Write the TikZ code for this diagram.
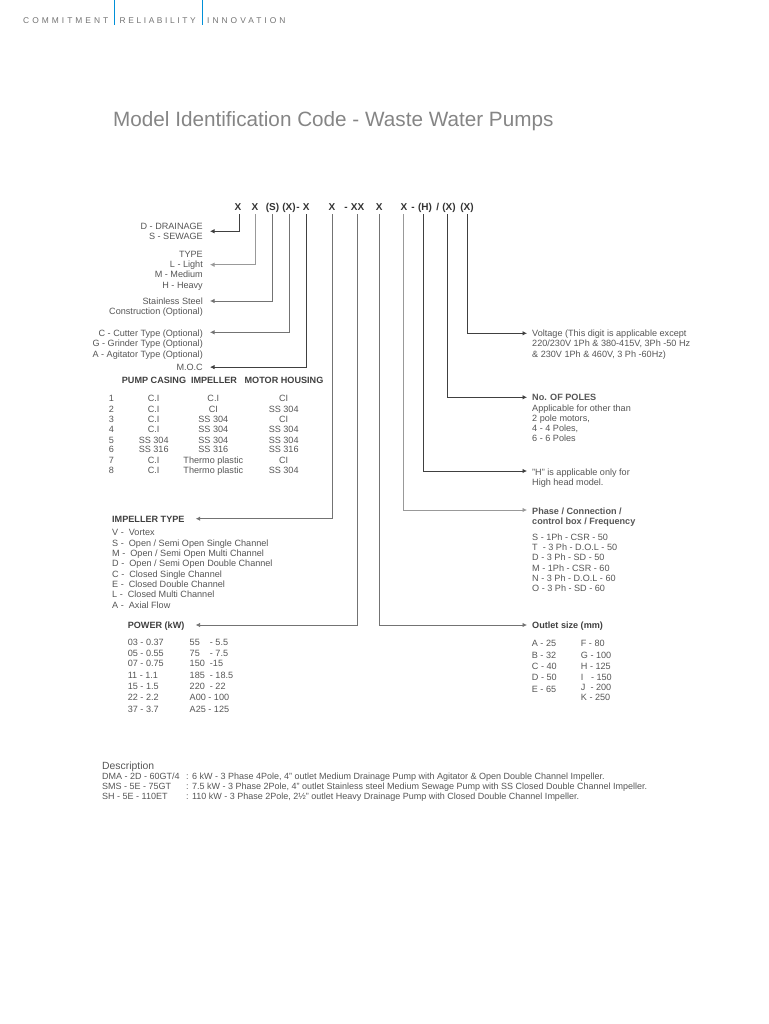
\documentclass[tikz,border=0pt]{standalone}
\usepackage{fontspec}
\setmainfont{Liberation Sans}
\usetikzlibrary{arrows.meta}
\definecolor{txtgray}{HTML}{555555}
\definecolor{titlegray}{HTML}{858585}
\definecolor{barblue}{HTML}{0090D8}
\begin{document}
\begin{tikzpicture}
    [
    x=1pt,y=-1pt,
    codeletter/.style={
      font=\fontsize{10}{12}\selectfont\bfseries,
      text=black!80,
      inner sep=0pt,
      text height=10.6pt,
      text depth=3.4pt
    },
    txt/.style={
      font=\fontsize{9.1}{10.3}\selectfont,
      text=txtgray,
      inner sep=0pt
    },
    row/.style={
      txt,
      text height=6.6pt,
      text depth=0pt
    },
    headtxt/.style={
      row,
      font=\fontsize{9.1}{10.3}\selectfont\bfseries,
      text=black!75
    },
    straptxt/.style={
      anchor=west,
      inner sep=0pt,
      text=black!55,
      font=\fontsize{8.4}{10}\selectfont\addfontfeature{LetterSpace=#1}
    },
    lefttxt/.style={txt,align=right,anchor=north east,inner xsep=7pt},
    righttxt/.style={txt,align=left,anchor=north west,inner xsep=5pt},
    link/.style={
      draw=black!55,
      line width=0.8pt,
      -{Latex[length=4.5pt,width=4.5pt]}
    },
    linkdark/.style={link,draw=black!75},
    linklight/.style={link,draw=black!40}
    ]
    \useasboundingbox (0,0) rectangle (768,1024);
    % strap line
    \node (strapa) at (23,20.3) [straptxt=36] {COMMITMENT};
    \node (strapb) at (119.5,20.3) [straptxt=31] {RELIABILITY};
    \node (strapc) at (207,20.3) [straptxt=36] {INNOVATION};
    \fill[barblue] (114.2,0) rectangle (115.2,25);
    \fill[barblue] (201.6,0) rectangle (202.6,25);
    % title
    \node (title) at (113,121.5) [anchor=west,inner sep=0pt,text=titlegray,
      font=\fontsize{20.7}{25}\selectfont] {Model Identification Code - Waste Water Pumps};
    % code letters
    \node (xa) at (238,207) [codeletter] {X};
    \node (xb) at (255,207) [codeletter] {X};
    \node (xc) at (272.5,207) [codeletter] {(S)};
    \node (xd) at (289,207) [codeletter] {(X)};
    \node (dasha) at (298,207) [codeletter] {-};
    \node (xe) at (306.3,207) [codeletter] {X};
    \node (xf) at (332,207) [codeletter] {X};
    \node (dashb) at (346,207) [codeletter] {-};
    \node (xg) at (357.5,207) [codeletter] {XX};
    \node (xh) at (379.3,207) [codeletter] {X};
    \node (xi) at (404,207) [codeletter] {X};
    \node (dashc) at (413,207) [codeletter] {-};
    \node (xj) at (425,207) [codeletter] {(H)};
    \node (slash) at (437.7,207) [codeletter] {/};
    \node (xk) at (449,207) [codeletter] {(X)};
    \node (xl) at (467,207) [codeletter] {(X)};
    % left labels
    \node (drain) at (210,222.7) [lefttxt] {D - DRAINAGE\\S - SEWAGE};
    \node (kind) at (210,250.7) [lefttxt] {TYPE\\L - Light\\M - Medium\\H - Heavy};
    \node (steel) at (210,297.7) [lefttxt] {Stainless Steel\\Construction (Optional)};
    \node (cutter) at (210,329.7) [lefttxt] {C - Cutter Type (Optional)\\G - Grinder Type (Optional)\\A - Agitator Type (Optional)};
    \node (moc) at (210,363.7) [lefttxt] {M.O.C};
    % material table
    \node (hcasing) at (154,380) [headtxt] {PUMP CASING};
    \node (himp) at (214,380) [headtxt] {IMPELLER};
    \node (hmotor) at (284,380) [headtxt] {MOTOR HOUSING};
    \foreach \y/\n/\a/\b/\c [count=\i] in {
      398.3/1/C.I/C.I/CI,
      408.7/2/C.I/CI/SS 304,
      418.7/3/C.I/SS 304/CI,
      429/4/C.I/SS 304/SS 304,
      439.7/5/SS 304/SS 304/SS 304,
      449.2/6/SS 316/SS 316/SS 316,
      459.7/7/C.I/Thermo plastic/CI,
      470/8/C.I/Thermo plastic/SS 304}
    {
      \node (tn\i) at (111.3,\y) [row] {\n};
      \node (ta\i) at (153.7,\y) [row] {\a};
      \node (tb\i) at (213.3,\y) [row] {\b};
      \node (tc\i) at (283.7,\y) [row] {\c};
    }
    % impeller list
    \node (imp) at (112,518.7) [headtxt,anchor=west] {IMPELLER TYPE};
    \node (impl) at (112,529.5) [txt,align=left,anchor=north west] {V -\ \ Vortex\\S -\ \ Open / Semi Open Single Channel\\M -\ \ Open / Semi Open Multi Channel\\D -\ \ Open / Semi Open Double Channel\\C -\ \ Closed Single Channel\\E -\ \ Closed Double Channel\\L -\ \ Closed Multi Channel\\A -\ \ Axial Flow};
    % power list
    \node (power) at (127.6,625) [headtxt,anchor=west] {POWER (kW)};
    \foreach \y/\a/\b [count=\i] in {
      641.7/03 - 0.37/55\ \ \ \ - 5.5,
      652.7/05 - 0.55/75\ \ \ \ - 7.5,
      663/07 - 0.75/150\ \ -15,
      674.7/11 - 1.1/185\ \ - 18.5,
      686/15 - 1.5/220\ \ - 22,
      697.5/22 - 2.2/A00 - 100,
      709/37 - 3.7/A25 - 125}
    {
      \node (pa\i) at (127.6,\y) [row,anchor=west] {\a};
      \node (pb\i) at (189.5,\y) [row,anchor=west] {\b};
    }
    % right labels
    \node (volt) at (527,329.7) [righttxt] {Voltage (This digit is applicable except\\220/230V 1Ph \& 380-415V, 3Ph -50 Hz\\\& 230V 1Ph \& 460V, 3 Ph -60Hz)};
    \node (poles) at (527,394.2) [righttxt] {\textbf{No. OF POLES}\\Applicable for other than\\2 pole motors,\\4 - 4 Poles,\\6 - 6 Poles};
    \node (head) at (527,468.7) [righttxt] {"H" is applicable only for\\High head model.};
    \node (phase) at (527,507.7) [righttxt] {\textbf{Phase / Connection /}\\\textbf{control box / Frequency}};
    \node (phasel) at (532,533.4) [txt,align=left,anchor=north west] {S - 1Ph - CSR - 50\\T\ \ - 3 Ph - D.O.L - 50\\D - 3 Ph - SD - 50\\M - 1Ph - CSR - 60\\N - 3 Ph - D.O.L - 60\\O - 3 Ph - SD - 60};
    \node (outlet) at (527,625) [headtxt,anchor=west,inner xsep=5pt] {Outlet size (mm)};
    \foreach \y/\a [count=\i] in {643/A - 25,654.7/B - 32,666/C - 40,677.3/D - 50,689/E - 65}
    {
      \node (oa\i) at (531.7,\y) [row,anchor=west] {\a};
    }
    \foreach \y/\a [count=\i] in {643/F - 80,654.7/G - 100,666/H - 125,677.3/I\ \ \ - 150,687/J\ \ - 200,697.3/K - 250}
    {
      \node (ob\i) at (580.7,\y) [row,anchor=west] {\a};
    }
    % description
    \node (desc) at (102,766.5) [anchor=west,inner sep=0pt,text=txtgray,
      font=\fontsize{10.4}{12}\selectfont] {Description};
    \foreach \y/\a/\b [count=\i] in {
      776/{DMA - 2D - 60GT/4}/{: 6 kW - 3 Phase 4Pole, 4" outlet Medium Drainage Pump with Agitator \& Open Double Channel Impeller.},
      786/{SMS - 5E - 75GT}/{: 7.5 kW - 3 Phase 2Pole, 4" outlet Stainless steel Medium Sewage Pump with SS Closed Double Channel Impeller.},
      796/{SH - 5E - 110ET}/{: 110 kW - 3 Phase 2Pole, 2½" outlet Heavy Drainage Pump with Closed Double Channel Impeller.}}
    {
      \node (da\i) at (102,\y) [row,anchor=west,font=\fontsize{9}{10}\selectfont] {\a};
      \node (db\i) at (186,\y) [row,anchor=west,font=\fontsize{9}{10}\selectfont] {\b};
    }
    % connectors
    \draw[linkdark] ([xshift=1pt]xa.south) |- (drain.east);
    \draw[linklight] ([xshift=0.7pt]xb.south) |- ([yshift=-14pt]kind.north east);
    \draw[link] (xc.south) |- ([yshift=-3.3pt]steel.north east);
    \draw[link] (xd.south) |- ([yshift=-2.6pt]cutter.north east);
    \draw[linkdark] (xe.south) |- (moc.east);
    \draw[link] (xf.south) |- ([xshift=11pt]imp.east);
    \draw[link] (xg.south) |- ([xshift=11pt]power.east);
    \draw[link] (xh.south) |- (outlet.west);
    \draw[linklight] ([xshift=-1pt]xi.south) |- ([yshift=-2.3pt]phase.north west);
    \draw[linkdark] ([xshift=-2pt]xj.south) |- ([yshift=-2.3pt]head.north west);
    \draw[linkdark] ([xshift=-1.7pt]xk.south) |- ([yshift=-3.1pt]poles.north west);
    \draw[linkdark] (xl.south) |- ([yshift=-3.6pt]volt.north west);
  \end{tikzpicture}
\end{document}
